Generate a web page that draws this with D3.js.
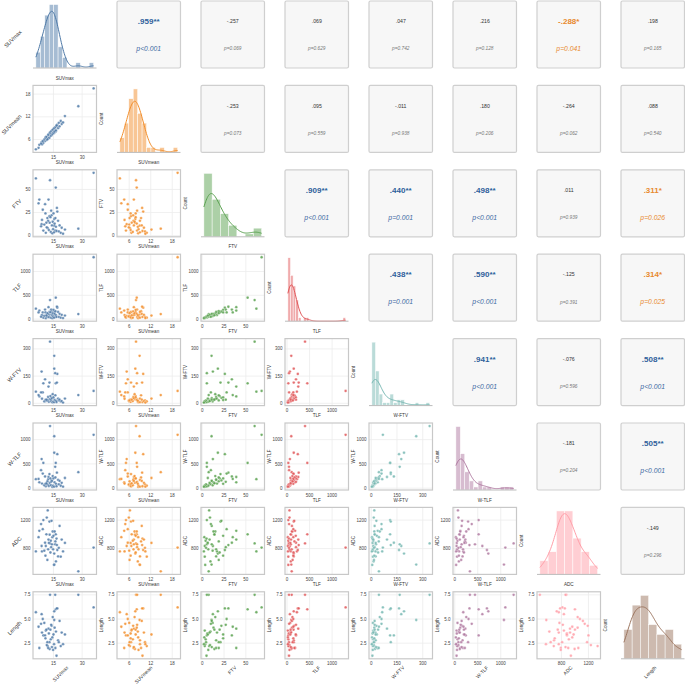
<!DOCTYPE html>
<html>
<head>
<meta charset="utf-8">
<script src="https://cdn.jsdelivr.net/npm/d3@7"></script>
<style>
  body { margin: 0; background: #fff; }
  text { font-family: "Liberation Sans", Arial, sans-serif; }
</style>
</head>
<body>
<script>
// variable names and colours (one per column)
var names = ["SUVmax", "SUVmean", "FTV", "TLF", "W-FTV", "W-TLF", "ADC", "Length"];
var colors = ["#4e79a7", "#f28e2b", "#59a14f", "#e15759", "#76b7b2", "#b07aa1", "#ff9da7", "#9c755f"];

var suvmax  = [36.0, 28.0, 13.2, 5.8, 16.2, 15.4, 15.4, 17.0, 8.8, 15.9, 9.7, 12.9, 16.8, 12.4, 10.6, 7.6, 11.0, 12.0, 13.0, 14.0, 9.0, 10.2, 11.5, 12.2, 12.6, 13.4, 13.6, 13.8, 14.2, 14.4, 14.6, 14.8, 15.0, 15.3, 15.6, 16.0, 16.3, 16.6, 17.4, 17.8, 18.2, 18.8, 19.3, 20.0, 21.0, 9.4, 7.2, 10.8, 11.8, 8.5, 11.3];
var suvmean = [19.5, 14.8, 7.9, 3.4, 8.1, 8.9, 7.7, 9.9, 5.3, 8.2, 5.1, 6.5, 9.6, 7.3, 5.6, 4.6, 6.6, 6.2, 7.6, 7.1, 4.7, 6.0, 5.9, 7.2, 6.4, 7.8, 7.0, 8.2, 7.3, 8.5, 7.5, 8.6, 7.8, 9.0, 8.1, 9.3, 8.4, 9.7, 9.0, 10.4, 9.5, 10.9, 10.1, 10.5, 12.2, 5.6, 3.8, 6.4, 6.1, 4.9, 6.7];
var ftv     = [68, 7.5, 60, 62, 52, 10.8, 18, 26, 12.3, 5.4, 5.4, 21, 30, 39, 34, 39, 3.0, 8.0, 14, 22, 17, 12, 9.0, 16, 6.0, 20, 4.0, 27, 11, 2.5, 15, 7.0, 24, 3.5, 13, 19, 9.5, 5.0, 16, 4.5, 11, 3.0, 8.5, 2.0, 6.5, 28, 35, 24, 19, 10, 14];
var tlf     = [1300, 105, 400, 220, 450, 95, 150, 240, 65, 45, 30, 150, 260, 250, 200, 180, 20, 55, 95, 160, 85, 70, 55, 105, 40, 145, 30, 200, 85, 20, 120, 55, 195, 30, 110, 165, 85, 45, 150, 45, 110, 30, 90, 22, 75, 140, 140, 140, 125, 47, 80];
var wftv    = [68, 45, 340, 64, 110, 262, 191, 162, 175, 166, 110, 114, 114, 92, 132, 38, 12, 18, 22, 30, 25, 10, 15, 35, 8, 40, 12, 20, 28, 5, 50, 9, 33, 6, 18, 44, 14, 7, 26, 16, 20, 10, 12, 4, 26, 60, 45, 18, 16, 60, 20];
var wtlf    = [1100, 330, 1280, 185, 520, 1070, 730, 700, 600, 440, 520, 290, 320, 230, 240, 120, 40, 70, 110, 160, 95, 60, 80, 180, 45, 200, 60, 130, 150, 25, 250, 50, 200, 30, 120, 220, 90, 40, 170, 80, 150, 50, 110, 30, 210, 300, 190, 90, 140, 370, 100];
var adc     = [814, 480, 873, 760, 1000, 575, 730, 780, 836, 860, 1200, 1180, 850, 927, 882, 1050, 836, 1336, 995, 1190, 760, 770, 1236, 790, 880, 745, 910, 820, 860, 960, 1040, 790, 980, 570, 1040, 900, 620, 940, 690, 810, 1118, 686, 927, 760, 880, 1073, 960, 700, 640, 1145, 1000];
var len     = [6.2, 7.5, 7.5, 5.7, 6.0, 4.9, 5.8, 6.1, 5.5, 7.5, 3.3, 2.6, 6.1, 4.0, 3.3, 2.0, 3.8, 2.2, 1.9, 4.3, 3.6, 4.6, 2.3, 2.0, 3.5, 3.9, 2.9, 4.4, 2.1, 3.1, 5.2, 1.8, 3.4, 2.4, 4.1, 2.0, 3.7, 1.2, 2.8, 2.6, 4.8, 2.2, 3.6, 2.4, 3.4, 5.0, 4.2, 3.0, 2.6, 4.5, 3.9];
var columns = [suvmax, suvmean, ftv, tlf, wftv, wtlf, adc, len];

// tick labels per variable
var tickVals = [[15, 30], [6, 12, 18], [0, 25, 50], [0, 500, 1000], [0, 150, 300], [0, 500, 1000], [800, 1200], [2.5, 5, 7.5]];
var binCounts = [13, 13, 7, 22, 16, 13, 7, 7];

// upper triangle, row by row
var corrR = [".959**", "-.257", ".069", ".047", ".216", "-.288*", ".198",
             "-.253", ".095", "-.011", ".180", "-.264", ".088",
             ".909**", ".440**", ".498**", ".011", ".311*",
             ".438**", ".590**", "-.125", ".314*",
             ".941**", "-.076", ".508**",
             "-.181", ".505**",
             "-.149"];
var corrP = ["p<0.001", "p=0.069", "p=0.629", "p=0.742", "p=0.128", "p=0.041", "p=0.165",
             "p=0.073", "p=0.559", "p=0.938", "p=0.206", "p=0.062", "p=0.540",
             "p<0.001", "p=0.001", "p<0.001", "p=0.939", "p=0.026",
             "p=0.001", "p<0.001", "p=0.391", "p=0.025",
             "p<0.001", "p=0.596", "p<0.001",
             "p=0.204", "p<0.001",
             "p=0.296"];

var width = 685, height = 684;
var cw = 63.5, ch = 67;
var gx = function(j) { return 33 + 84 * j; };
var gy = function(i) { return 1 + 84.4 * i; };
var n = names.length;

var svg = d3.select("body").append("svg")
    .attr("width", width)
    .attr("height", height);

// scales per variable
var xScales = columns.map(function(v, j) {
  var e = d3.extent(v), p = (e[1] - e[0]) * 0.05;
  return d3.scaleLinear().domain([e[0] - p, e[1] + p]).range([gx(j), gx(j) + cw]);
});
var yScales = columns.map(function(v, i) {
  var e = d3.extent(v), p = (e[1] - e[0]) * 0.05;
  return d3.scaleLinear().domain([e[0] - p, e[1] + p]).range([gy(i) + ch, gy(i)]);
});
var fmt = function(k) { return k === 7 ? d3.format(".1f") : d3.format("d"); };

function xTicks(g, j, i) {
  var x = xScales[j];
  g.selectAll(null).data(tickVals[j]).enter().append("text")
    .attr("x", function(d) { return x(d); })
    .attr("y", gy(i) + ch + 6.5)
    .attr("text-anchor", "middle")
    .attr("font-size", 4.5)
    .attr("fill", "#444")
    .text(fmt(j));
}
function yTicks(g, i, j) {
  var y = yScales[i];
  g.selectAll(null).data(tickVals[i]).enter().append("text")
    .attr("x", gx(j) - 2.5)
    .attr("y", function(d) { return y(d) + 1.6; })
    .attr("text-anchor", "end")
    .attr("font-size", 4.5)
    .attr("fill", "#444")
    .text(fmt(i));
}
function innerYLabel(g, i, j, label) {
  g.append("text")
    .attr("transform", "translate(" + (gx(j) - 14) + "," + (gy(i) + ch / 2) + ") rotate(-90)")
    .attr("text-anchor", "middle")
    .attr("font-size", 4.6)
    .attr("fill", "#333")
    .text(label);
}
function innerXLabel(g, i, j) {
  g.append("text")
    .attr("x", gx(j) + cw / 2)
    .attr("y", gy(i) + ch + 11.5)
    .attr("text-anchor", "middle")
    .attr("font-size", 4.6)
    .attr("fill", "#333")
    .text(names[j]);
}

function gauss(u) { return Math.exp(-0.5 * u * u) / Math.sqrt(2 * Math.PI); }

for (var i = 0; i < n; i++) {
  for (var j = 0; j < n; j++) {
    var g = svg.append("g");
    var x0 = gx(j), y0 = gy(i);

    if (i < j) {
      // correlation box
      var k = i * n - i * (i + 1) / 2 + (j - i - 1);
      var r = corrR[k], p = corrP[k];
      var col = r.indexOf("**") >= 0 ? "#2f5f9b" : (r.indexOf("*") >= 0 ? "#e8892e" : null);
      g.append("rect")
        .attr("x", x0).attr("y", y0).attr("width", cw).attr("height", ch)
        .attr("rx", 1.5)
        .attr("fill", "#f7f7f7")
        .attr("stroke", "#cfcfcf")
        .attr("stroke-width", 1.2);
      g.append("text")
        .attr("x", x0 + cw / 2).attr("y", y0 + ch * 0.3 + (col ? 3 : 2))
        .attr("text-anchor", "middle")
        .attr("font-size", col ? 8 : 5.2)
        .attr("font-weight", col ? "bold" : "normal")
        .attr("fill", col || "#333")
        .text(r);
      g.append("text")
        .attr("x", x0 + cw / 2).attr("y", y0 + ch * 0.71 + (col ? 2.5 : 1.8))
        .attr("text-anchor", "middle")
        .attr("font-size", col ? 6.8 : 4.8)
        .attr("font-style", "italic")
        .attr("fill", col ? (col === "#2f5f9b" ? "#3c6aa3" : "#e8892e") : "#777")
        .text(p);
    } else if (i === j) {
      // histogram with kde on the diagonal
      var v = columns[j], x = xScales[j];
      var e = d3.extent(v), bw = (e[1] - e[0]) / binCounts[j];
      var thr = d3.range(1, binCounts[j]).map(function(t) { return e[0] + t * bw; });
      var bins = d3.bin().domain(e).thresholds(thr)(v);
      var h = d3.deviation(v) * Math.pow(v.length, -0.2);
      var xs = d3.range(0, 101).map(function(t) { return e[0] + t * (e[1] - e[0]) / 100; });
      var dens = xs.map(function(t) {
        return [t, d3.mean(v, function(d) { return gauss((t - d) / h); }) / h * v.length * bw];
      });
      var ymax = Math.max(d3.max(bins, function(b) { return b.length; }), d3.max(dens, function(d) { return d[1]; }));
      var y = d3.scaleLinear().domain([0, ymax * 1.04]).range([y0 + ch, y0 + 1]);

      g.selectAll("rect").data(bins).enter().append("rect")
        .attr("x", function(b) { return x(b.x0); })
        .attr("width", function(b) { return Math.max(0, x(b.x1) - x(b.x0)); })
        .attr("y", function(b) { return y(b.length); })
        .attr("height", function(b) { return y(0) - y(b.length); })
        .attr("fill", colors[j])
        .attr("fill-opacity", 0.5)
        .attr("stroke", "#fff")
        .attr("stroke-width", 0.5);
      g.append("path")
        .datum(dens)
        .attr("fill", "none")
        .attr("stroke", colors[j])
        .attr("stroke-width", 1)
        .attr("d", d3.line().x(function(d) { return x(d[0]); }).y(function(d) { return y(d[1]); }));
      g.append("line")
        .attr("x1", x0).attr("x2", x0 + cw)
        .attr("y1", y0 + ch).attr("y2", y0 + ch)
        .attr("stroke", "#bbb").attr("stroke-width", 1);
      if (j > 0) innerYLabel(g, i, j, "Count");
      if (i < n - 1) innerXLabel(g, i, j);
    } else {
      // scatter, x = column variable, y = row variable
      var xv = columns[j], yv = columns[i];
      var x = xScales[j], y = yScales[i];
      g.append("rect")
        .attr("x", x0).attr("y", y0).attr("width", cw).attr("height", ch)
        .attr("fill", "#fff");
      g.selectAll(null).data(tickVals[j].filter(function(t) { return t > x.domain()[0] && t < x.domain()[1]; }))
        .enter().append("line")
        .attr("x1", function(d) { return x(d); }).attr("x2", function(d) { return x(d); })
        .attr("y1", y0).attr("y2", y0 + ch)
        .attr("stroke", "#ececec").attr("stroke-width", 0.8);
      g.selectAll(null).data(tickVals[i].filter(function(t) { return t > y.domain()[0] && t < y.domain()[1]; }))
        .enter().append("line")
        .attr("y1", function(d) { return y(d); }).attr("y2", function(d) { return y(d); })
        .attr("x1", x0).attr("x2", x0 + cw)
        .attr("stroke", "#ececec").attr("stroke-width", 0.8);
      g.selectAll("circle").data(d3.range(xv.length)).enter().append("circle")
        .attr("cx", function(d) { return x(xv[d]); })
        .attr("cy", function(d) { return y(yv[d]); })
        .attr("r", 1.4)
        .attr("fill", colors[j])
        .attr("fill-opacity", 0.85)
        .attr("stroke", "#fff")
        .attr("stroke-width", 0.3);
      g.append("rect")
        .attr("x", x0).attr("y", y0).attr("width", cw).attr("height", ch)
        .attr("fill", "none")
        .attr("stroke", "#c8c8c8")
        .attr("stroke-width", 1.2);
      xTicks(g, j, i);
      yTicks(g, i, j);
      if (j > 0) innerYLabel(g, i, j, names[i]);
      if (i < n - 1) innerXLabel(g, i, j);
    }
  }
}

// outer labels: left column and bottom row, rotated
svg.selectAll(".rowlab").data(names).enter().append("text")
  .attr("class", "rowlab")
  .attr("transform", function(d, i) { return "translate(22," + (gy(i) + ch / 2 - 2) + ") rotate(-45)"; })
  .attr("text-anchor", "end")
  .attr("font-size", 5.6)
  .attr("fill", "#333")
  .text(function(d) { return d; });

svg.selectAll(".collab").data(names).enter().append("text")
  .attr("class", "collab")
  .attr("transform", function(d, j) { return "translate(" + (gx(j) + cw / 2 + 4) + "," + 668 + ") rotate(-45)"; })
  .attr("text-anchor", "end")
  .attr("font-size", 5)
  .attr("fill", "#333")
  .text(function(d) { return d; });
</script>
</body>
</html>
